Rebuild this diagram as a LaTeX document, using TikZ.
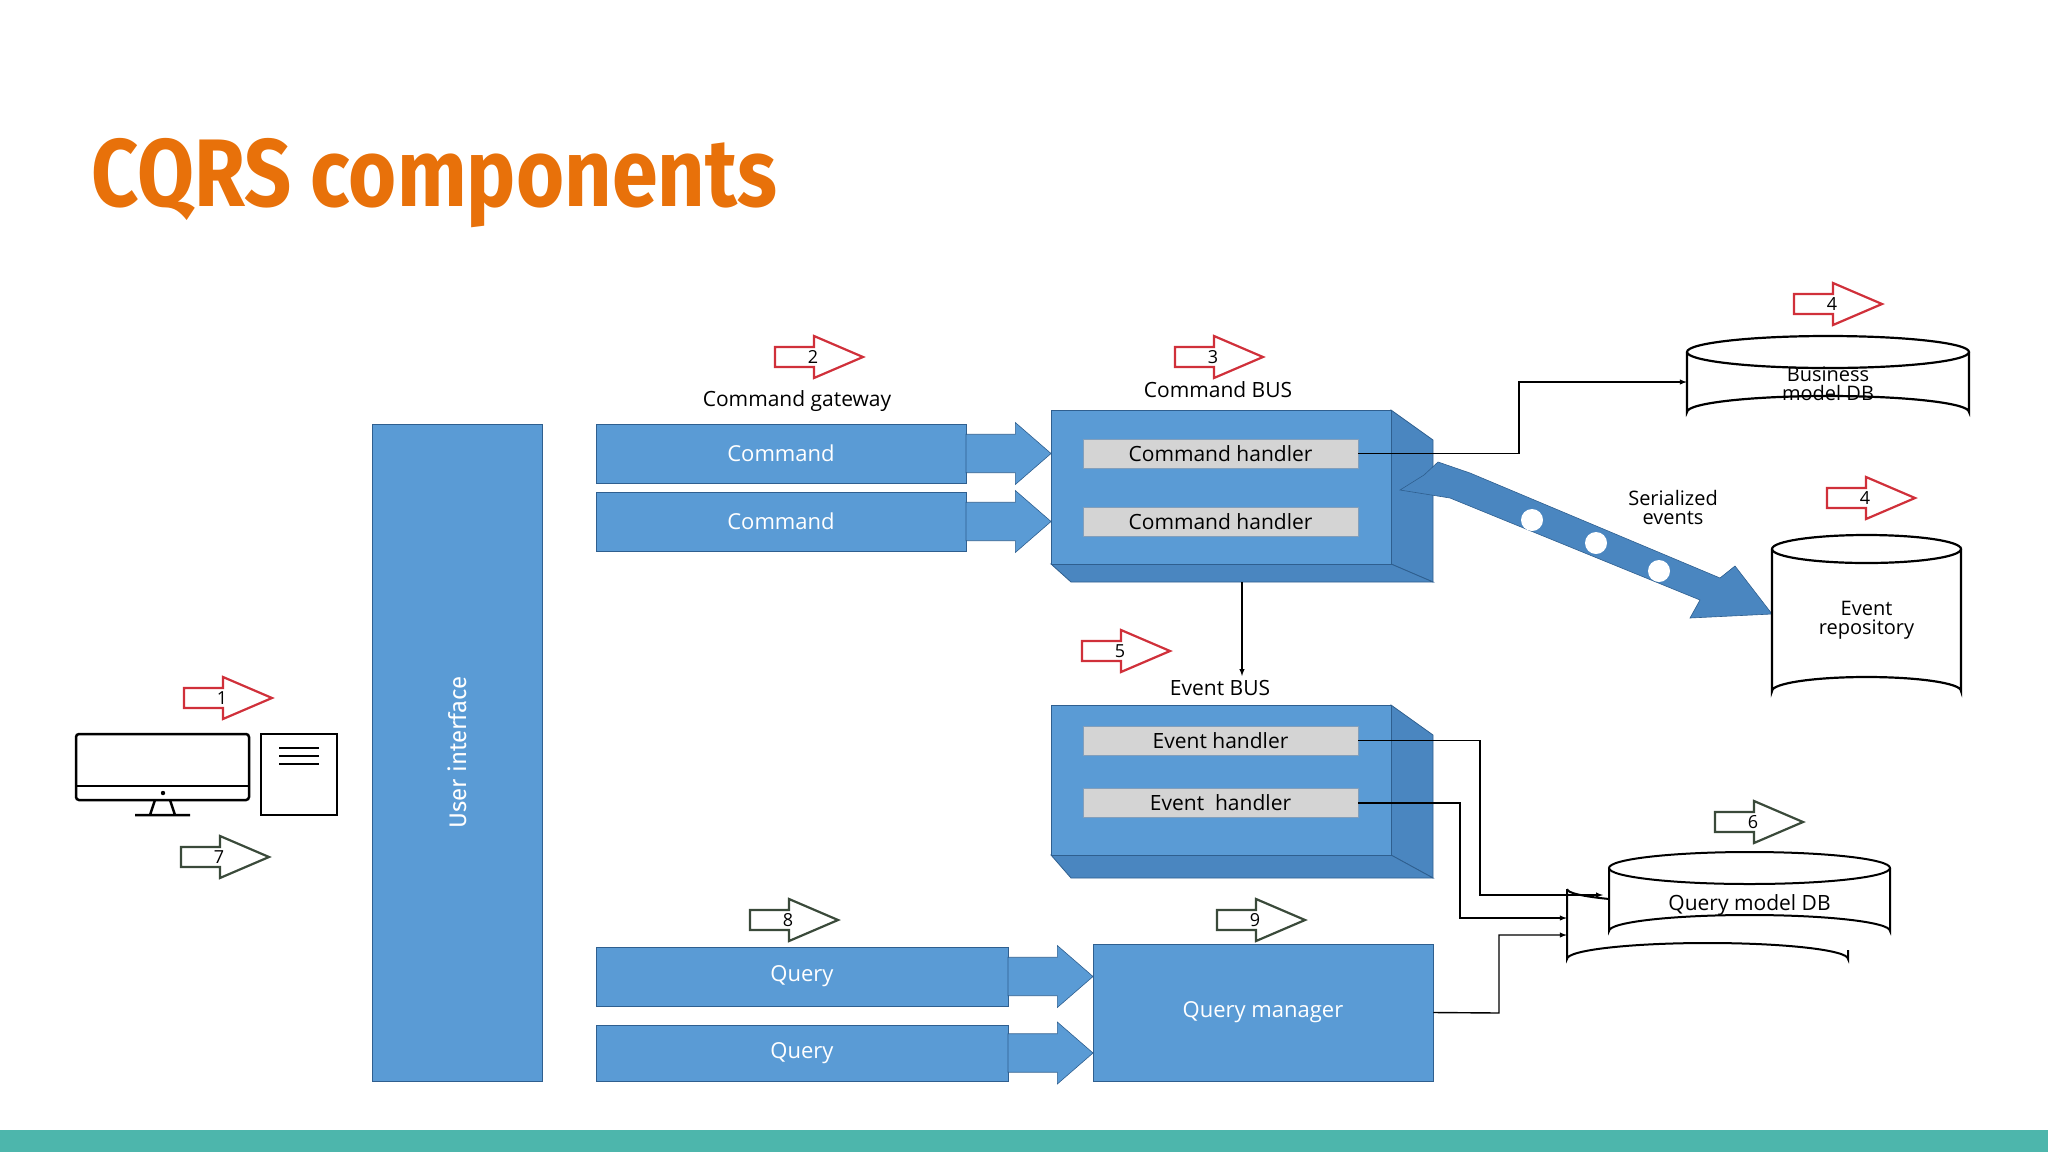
\documentclass[tikz,border=0pt]{standalone}
\usepackage{fontspec}
\setmainfont{Open Sans}
\newfontfamily\titlefont{Fira Sans}
\begin{document}
\definecolor{ublue}{HTML}{5A9BD5}
\definecolor{sblue}{HTML}{4A86C0}
\definecolor{eblue}{HTML}{2F5F8F}
\definecolor{orng}{HTML}{E8710A}
\definecolor{teal}{HTML}{4DB6AC}
\definecolor{bred}{HTML}{D0303A}
\definecolor{bgrn}{HTML}{3A4A3A}
\definecolor{hgray}{HTML}{D4D4D4}
\newcommand\mybadge[5]{%
\draw[#3, line width=2.2pt, fill=white] (#1-44,#2-10) -- (#1-5,#2-10) -- (#1-5,#2-21) -- (#1+44,#2) -- (#1-5,#2+21) -- (#1-5,#2+10) -- (#1-44,#2+10) -- cycle;
\node[font=\fontsize{18}{20}\selectfont, text=black] (#5) at (#1-6,#2) {#4};}
\newcommand\fatarrow[4]{% x1 x2 y halfheight
\fill[ublue, draw=eblue, line width=0.6pt] (#1,#3-#4*0.62) -- (#1+0.58*#2-0.58*#1,#3-#4*0.62) -- (#1+0.58*#2-0.58*#1,#3-#4) -- (#2,#3) -- (#1+0.58*#2-0.58*#1,#3+#4) -- (#1+0.58*#2-0.58*#1,#3+#4*0.62) -- (#1,#3+#4*0.62) -- cycle;}
\begin{tikzpicture}[x=1pt,y=-1pt,
  box/.style={draw=eblue, line width=0.8pt, fill=ublue, text=white, font=\fontsize{22}{26}\selectfont, inner sep=0pt},
  hand/.style={draw=eblue!60, line width=0.8pt, fill=hgray, text=black, font=\fontsize{21}{24}\selectfont, inner sep=0pt, minimum width=275pt, minimum height=29pt},
  lab/.style={font=\fontsize{21}{24}\selectfont, text=black},
  conn/.style={line width=1.4pt, -latex}]
\useasboundingbox (0,0) rectangle (2048,1152);
\fill[teal] (0,1130) rectangle (2048,1152);
\node[anchor=west, text=orng, font=\titlefont\bfseries\fontsize{96}{100}\selectfont, xscale=0.86, inner sep=0pt] (title) at (91,183) {CQRS components};

% computer icon
\draw[line width=2.5pt, rounded corners=3pt] (76,734) rectangle (249,800);
\draw[line width=2.5pt] (76,786) -- (249,786);
\fill (163,793) circle (2.2pt);
\draw[line width=2.5pt] (155,800) -- (150,815) (170,800) -- (175,815) (135,815) -- (190,815);
\draw[line width=2.5pt] (261,734) rectangle (337,815);
\draw[line width=2pt] (279,748) -- (319,748) (279,756) -- (319,756) (279,764) -- (319,764);

% user interface
\node[box, minimum width=170pt, minimum height=657pt] (ui) at (457,752.5) {};
\node[rotate=90, text=white, font=\titlefont\fontsize{24}{26}\selectfont] (uit) at (ui.center) {User interface};

% commands
\node[lab] (cgw) at (797,401) {Command gateway};
\node[box, minimum width=370pt, minimum height=59pt] (c1) at (781,453.5) {Command};
\node[box, minimum width=370pt, minimum height=59pt] (c2) at (781,521.5) {Command};
\fatarrow{966}{1051}{453.5}{31}
\fatarrow{966}{1051}{521.5}{31}

% command bus
\node[lab] (cbl) at (1218,390) {Command BUS};
\fill[sblue, draw=eblue, line width=0.8pt] (1391,410) -- (1433,440) -- (1433,582) -- (1391,564) -- cycle;
\fill[sblue, draw=eblue, line width=0.8pt] (1051,564) -- (1071,582) -- (1433,582) -- (1391,564) -- cycle;
\node[box, minimum width=340pt, minimum height=154pt] (cbus) at (1221,487) {};
\node[hand] (ch1) at (1220.5,453.5) {Command handler};
\node[hand] (ch2) at (1220.5,521.5) {Command handler};

% event bus
\node[lab] (ebl) at (1220,688) {Event BUS};
\fill[sblue, draw=eblue, line width=0.8pt] (1391,705) -- (1433,735) -- (1433,878) -- (1391,855) -- cycle;
\fill[sblue, draw=eblue, line width=0.8pt] (1051,855) -- (1071,878) -- (1433,878) -- (1391,855) -- cycle;
\node[box, minimum width=340pt, minimum height=150pt] (ebus) at (1221,780) {};
\node[hand] (eh1) at (1220.5,740.5) {Event handler};
\node[hand] (eh2) at (1220.5,803) {Event\ \ handler};
\coordinate (cbb) at (1242,582);
\draw[conn] (cbb) -- (1242,676);

% queries
\node[box, minimum width=412pt, minimum height=59pt] (q1) at (802,976.5) {Query};
\node[box, minimum width=412pt, minimum height=56pt] (q2) at (802,1053) {Query};
\fatarrow{1008}{1093}{976.5}{31}
\fatarrow{1008}{1093}{1053}{31}
\node[box, minimum width=340pt, minimum height=137pt] (qm) at (1263,1012.5) {Query manager};

% serialized events arrow
\fill[sblue, draw=eblue, line width=0.6pt] (1438,462) -- (1424,475) -- (1400,490) -- (1450,498) -- (1700,600) -- (1690,618) -- (1772,614) -- (1735,566) -- (1720,578) -- (1470,473) -- cycle;
\fill[white] (1532,520) circle (11) (1596,543) circle (11) (1659,571) circle (11);
\node[lab, align=center, font=\fontsize{20}{19}\selectfont] (ser) at (1673,507) {Serialized\\events};

% business DB
\node[lab, align=center, font=\fontsize{20}{19}\selectfont, minimum width=282pt, minimum height=92pt] (bdb) at (1828,382) {\\Business\\model DB};
\draw[line width=2.2pt] (1687,352) -- (1687,412) arc[start angle=180,end angle=360,x radius=141,y radius=16] -- (1969,352);
\draw[line width=2.2pt] (1828,352) ellipse[x radius=141, y radius=16];

% event repository
\node[lab, align=center, font=\fontsize{20}{19}\selectfont, minimum width=189pt, minimum height=170pt] (erep) at (1866.5,620) {Event\\repository};
\draw[line width=2.2pt] (1772,549) -- (1772,691) arc[start angle=180,end angle=360,x radius=94.5,y radius=14] -- (1961,549);
\draw[line width=2.2pt] (1866.5,549) ellipse[x radius=94.5, y radius=14];

% query model DB
\node[minimum width=281pt, minimum height=98pt, inner sep=0pt] (qdb2) at (1707.5,924) {};
\draw[line width=2pt] (1567,889) -- (1567,959) arc[start angle=180,end angle=360,x radius=140.5,y radius=16] -- (1848,950);
\draw[line width=2pt] (1567,889) arc[start angle=180,end angle=90,x radius=140.5,y radius=14];
\fill[white] (1609,868) -- (1609,931) arc[start angle=180,end angle=360,x radius=140.5,y radius=16] -- (1890,868) -- cycle;
\node[lab, minimum width=281pt, minimum height=95pt, inner sep=0pt] (qdb) at (1749.5,905) {Query model DB};
\draw[line width=2pt] (1609,868) -- (1609,931) arc[start angle=180,end angle=360,x radius=140.5,y radius=16] -- (1890,868);
\draw[line width=2pt] (1749.5,868) ellipse[x radius=140.5, y radius=16];

% connectors
\draw[conn] (ch1.east) -| (1519,415) |- (bdb.west);
\draw[conn] (eh1.east) -- (1480,740.5) |- (1603,895);
\draw[conn] (eh2.east) -- (1460,803) |- (qdb2.west |- 0,918);
\draw[conn] (qm.east) -- (1499,1013) |- (qdb2.west |- 0,935);

% badges
\mybadge{228}{698}{bred}{1}{b1}
\mybadge{819}{357}{bred}{2}{b2}
\mybadge{1219}{357}{bred}{3}{b3}
\mybadge{1838}{304}{bred}{4}{b4a}
\mybadge{1871}{498}{bred}{4}{b4b}
\mybadge{1126}{651}{bred}{5}{b5}
\mybadge{1759}{822}{bgrn}{6}{b6}
\mybadge{225}{857}{bgrn}{7}{b7}
\mybadge{794}{920}{bgrn}{8}{b8}
\mybadge{1261}{920}{bgrn}{9}{b9}
\end{tikzpicture}
\end{document}
